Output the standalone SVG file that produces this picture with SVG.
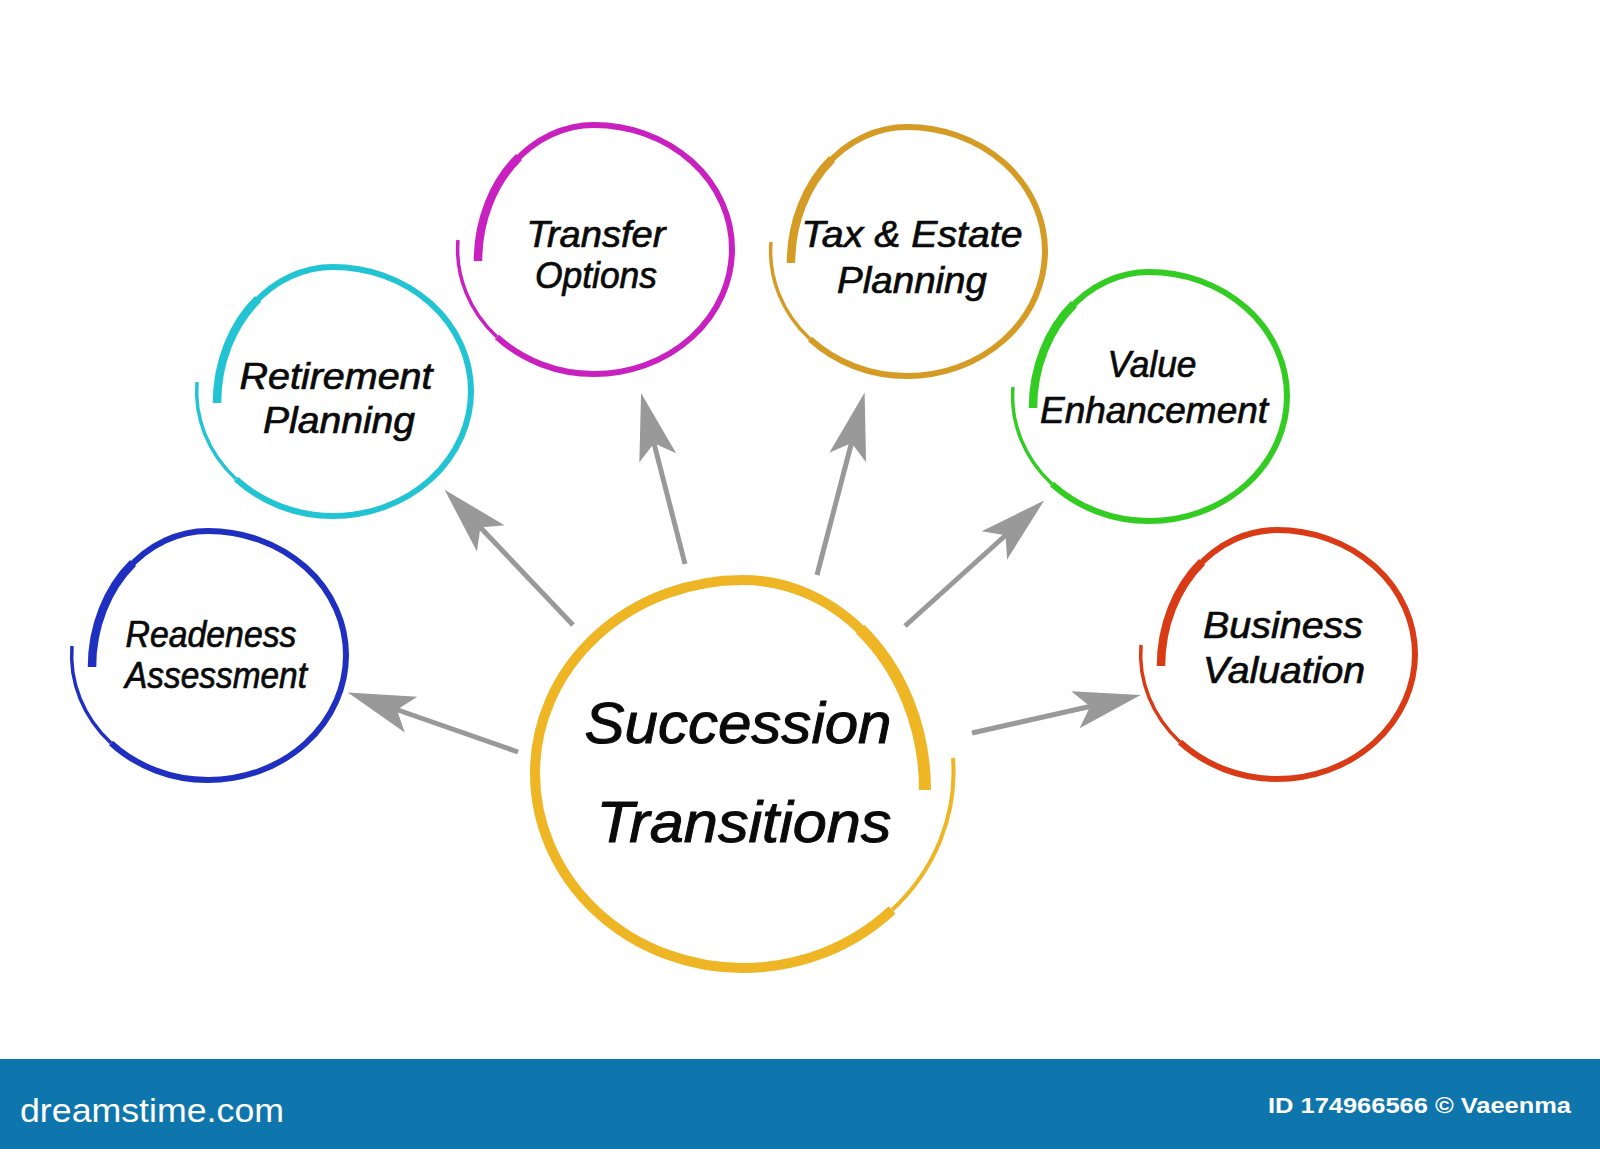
<svg xmlns="http://www.w3.org/2000/svg" xmlns:xlink="http://www.w3.org/1999/xlink" width="1600" height="1149" viewBox="0 0 1600 1149">
<style>
.lbl{font-family:"Liberation Sans",Arial,sans-serif;font-style:italic;font-size:36px;fill:#0a0a0a;stroke:#0a0a0a;stroke-width:0.7px;text-anchor:middle}
.big{font-size:58px;stroke-width:1px}
.conn line{stroke:#999;stroke-width:5}
.foot{font-family:"Liberation Sans",Arial,sans-serif;fill:#fff}
</style>
<defs>
<marker id="ah" markerUnits="userSpaceOnUse" markerWidth="80" markerHeight="50" refX="0" refY="0" orient="auto" viewBox="-20 -25 80 50" overflow="visible">
<path d="M50,0 L-17,-19 L-2,0 L-17,19 Z" fill="#999"/>
</marker>
<g id="ring" fill="none">
<path fill="none" stroke-width="3.5" d="M-136,-9 A137,125 0 0 0 -97,88"/>
<path fill="none" stroke-width="6" d="M-97,88 A137,125 0 0 0 0,125 A138,125 0 0 0 138,0 A138,124 0 0 0 0,-124 A116,136 0 0 0 -116,12"/>
<path fill="none" stroke-width="8.5" d="M-75,-92 A116,136 0 0 0 -116,12"/>
</g>
</defs>
<rect width="1600" height="1149" fill="#fff"/>

<g id="connectors" class="conn">
<line x1="518" y1="752" x2="395" y2="709" marker-end="url(#ah)"/>
<line x1="573" y1="625" x2="479" y2="526" marker-end="url(#ah)"/>
<line x1="685" y1="564" x2="653.5" y2="441.4" marker-end="url(#ah)"/>
<line x1="817" y1="575" x2="852" y2="441" marker-end="url(#ah)"/>
<line x1="905" y1="626" x2="1007" y2="534" marker-end="url(#ah)"/>
<line x1="972" y1="733" x2="1092" y2="706" marker-end="url(#ah)"/>
</g>

<g id="node-center">
<g transform="translate(743,773)" stroke="#eeb524" fill="none">
<path stroke-width="4" d="M210,-15 A210,195 0 0 1 149,137"/>
<path stroke-width="10" d="M149,137 A210,195 0 0 1 0,195 A208,195 0 0 1 -208,0 A208,193 0 0 1 0,-193 A182,210 0 0 1 182,17"/>
<path stroke-width="12" d="M117,-144 A182,210 0 0 1 182,17"/>
</g>
<text class="lbl big" x="738" y="743" textLength="307" lengthAdjust="spacingAndGlyphs">Succession</text>
<text class="lbl big" x="744" y="842" textLength="295" lengthAdjust="spacingAndGlyphs">Transitions</text>
</g>

<g id="node-readiness">
<use xlink:href="#ring" transform="translate(208,655)" stroke="#1f2fc0"/>
<text class="lbl" x="211" y="647" textLength="171" lengthAdjust="spacingAndGlyphs">Readeness</text>
<text class="lbl" x="216" y="688" textLength="182" lengthAdjust="spacingAndGlyphs">Assessment</text>
</g>

<g id="node-retirement">
<use xlink:href="#ring" transform="translate(333,391)" stroke="#22c4d4"/>
<text class="lbl" x="336" y="389" textLength="193" lengthAdjust="spacingAndGlyphs">Retirement</text>
<text class="lbl" x="339" y="433" textLength="152" lengthAdjust="spacingAndGlyphs">Planning</text>
</g>

<g id="node-transfer">
<use xlink:href="#ring" transform="translate(594,249)" stroke="#c920c0"/>
<text class="lbl" x="596" y="247" textLength="139" lengthAdjust="spacingAndGlyphs">Transfer</text>
<text class="lbl" x="596" y="288" textLength="122" lengthAdjust="spacingAndGlyphs">Options</text>
</g>

<g id="node-tax">
<use xlink:href="#ring" transform="translate(907,251)" stroke="#d49b25"/>
<text class="lbl" x="912" y="247" textLength="221" lengthAdjust="spacingAndGlyphs">Tax &amp; Estate</text>
<text class="lbl" x="912" y="293" textLength="150" lengthAdjust="spacingAndGlyphs">Planning</text>
</g>

<g id="node-value">
<use xlink:href="#ring" transform="translate(1149,396)" stroke="#33cc22"/>
<text class="lbl" x="1152" y="377" textLength="89" lengthAdjust="spacingAndGlyphs">Value</text>
<text class="lbl" x="1154" y="423" textLength="228" lengthAdjust="spacingAndGlyphs">Enhancement</text>
</g>

<g id="node-business">
<use xlink:href="#ring" transform="translate(1277,654)" stroke="#d93b16"/>
<text class="lbl" x="1283" y="638" textLength="160" lengthAdjust="spacingAndGlyphs">Business</text>
<text class="lbl" x="1284" y="683" textLength="162" lengthAdjust="spacingAndGlyphs">Valuation</text>
</g>

<g id="footer">
<rect x="0" y="1059" width="1600" height="90" fill="#0f76ad"/>
<text class="foot" x="20" y="1122" font-family="DejaVu Sans, sans-serif" font-size="33" textLength="264" lengthAdjust="spacingAndGlyphs">dreamstime.com</text>
<text class="foot" x="1268" y="1113" font-size="22" font-weight="bold" textLength="303" lengthAdjust="spacingAndGlyphs">ID 174966566 © Vaeenma</text>
</g>
</svg>
